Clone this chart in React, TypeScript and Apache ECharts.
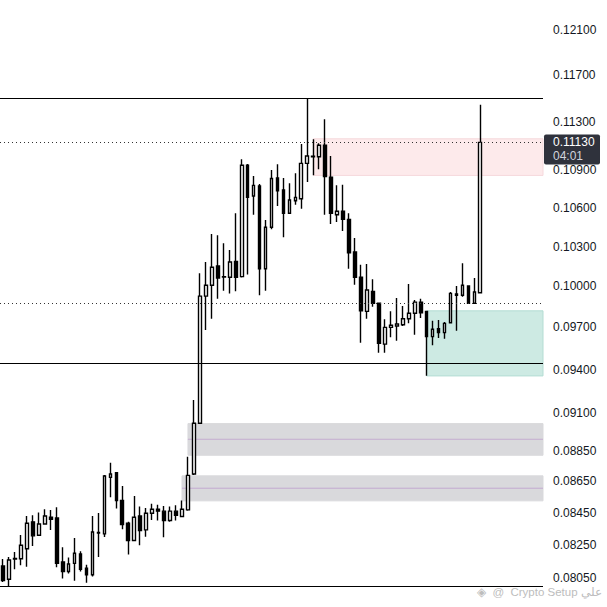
import React, { useEffect, useRef } from "react";
import * as echarts from "echarts";

// ---- data ----
const opens = [
  0.08123, 0.08043, 0.08165, 0.08167, 0.08228, 0.08394, 0.08311, 0.08381, 0.08423, 0.08418,
  0.08147, 0.0809, 0.08139, 0.08196, 0.0811, 0.0807, 0.08328, 0.08319, 0.08676, 0.08706,
  0.08528, 0.08385, 0.08278, 0.08431, 0.08344, 0.08448, 0.08473, 0.08461, 0.08402, 0.08461,
  0.08427, 0.08469, 0.08698, 0.09032, 0.09928, 0.10008, 0.10153, 0.10073, 0.10068, 0.10188,
  0.10073, 0.10942, 0.10695, 0.10775, 0.10132, 0.10449, 0.10839, 0.10743, 0.10559, 0.10657,
  0.10673, 0.10958, 0.11012, 0.11012, 0.11106, 0.10845, 0.10547, 0.10574, 0.10511, 0.10259,
  0.10068, 0.09816, 0.09963, 0.09875, 0.0958, 0.097, 0.0971, 0.09719, 0.09762, 0.09802,
  0.09884, 0.09816, 0.09633, 0.0969, 0.09662, 0.09733, 0.09943, 0.09934, 0.10003, 0.09875,
  0.09953,
];
const closes = [
  0.08035, 0.08159, 0.08168, 0.08249, 0.08385, 0.08307, 0.08381, 0.08431, 0.0841, 0.08139,
  0.0809, 0.08135, 0.082, 0.08103, 0.0807, 0.08331, 0.08325, 0.08685, 0.08698, 0.08528,
  0.08377, 0.08278, 0.08423, 0.0834, 0.08448, 0.08473, 0.08461, 0.08402, 0.08461, 0.08435,
  0.08473, 0.08689, 0.09032, 0.09928, 0.10008, 0.10143, 0.10063, 0.1007, 0.10183, 0.10068,
  0.10942, 0.10684, 0.1078, 0.10132, 0.10449, 0.10835, 0.10737, 0.10559, 0.10663, 0.10684,
  0.10958, 0.11018, 0.11016, 0.11106, 0.1085, 0.10559, 0.10574, 0.10511, 0.10253, 0.10068,
  0.0982, 0.09973, 0.09875, 0.09585, 0.097, 0.09715, 0.09724, 0.09762, 0.09802, 0.09884,
  0.09806, 0.09633, 0.09686, 0.09662, 0.09729, 0.09948, 0.09934, 0.10008, 0.09875, 0.09958,
  0.1113,
];
const lows = [
  0.08027, 0.08003, 0.08104, 0.08127, 0.08118, 0.08245, 0.08307, 0.08377, 0.08344, 0.08115,
  0.08047, 0.08078, 0.08035, 0.0809, 0.08023, 0.08059, 0.08177, 0.083, 0.08549, 0.08477,
  0.08348, 0.08192, 0.08276, 0.08249, 0.08302, 0.08406, 0.08402, 0.08298, 0.08394, 0.08402,
  0.08427, 0.08464, 0.08691, 0.09027, 0.09681, 0.09762, 0.09909, 0.09968, 0.09948, 0.09963,
  0.10066, 0.10088, 0.10547, 0.09934, 0.09968, 0.10433, 0.10615, 0.10372, 0.10557, 0.10626,
  0.10594, 0.10807, 0.10861, 0.10909, 0.10547, 0.10475, 0.1049, 0.10421, 0.10132, 0.10013,
  0.0959, 0.09762, 0.0985, 0.09518, 0.09518, 0.09628, 0.09604, 0.0971, 0.09729, 0.09647,
  0.09768, 0.09358, 0.09571, 0.09624, 0.09619, 0.09731, 0.09675, 0.09923, 0.09874, 0.09874,
  0.09951,
];
const highs = [
  0.08165, 0.08177, 0.08208, 0.08313, 0.08431, 0.08435, 0.08452, 0.08473, 0.08469, 0.08486,
  0.08237, 0.08175, 0.08294, 0.08212, 0.0813, 0.08431, 0.0845, 0.08691, 0.08771, 0.08711,
  0.0862, 0.08394, 0.08557, 0.0849, 0.08481, 0.08507, 0.08502, 0.08494, 0.0849, 0.08498,
  0.08528, 0.08811, 0.0919, 0.10098, 0.10183, 0.10397, 0.10387, 0.10326, 0.10274, 0.10558,
  0.10991, 0.10952, 0.10855, 0.10791, 0.10506, 0.10903, 0.1095, 0.10839, 0.10796, 0.10877,
  0.11117, 0.115, 0.11156, 0.11123, 0.11323, 0.11018, 0.1078, 0.10785, 0.10558, 0.10366,
  0.10162, 0.10168, 0.10053, 0.09877, 0.09758, 0.09816, 0.09914, 0.09855, 0.10018, 0.09899,
  0.09909, 0.09818, 0.09748, 0.09753, 0.09739, 0.09958, 0.10003, 0.10173, 0.10003, 0.10063,
  0.11446,
];
const EMPTY_SLOTS = 10;
const categories = Array.from({ length: opens.length + EMPTY_SLOTS }, (_, i) => String(i));

const yTicks = [
  0.121, 0.117, 0.113, 0.109, 0.106, 0.103, 0.1, 0.097, 0.094, 0.091, 0.0885, 0.0865, 0.0845,
  0.0825, 0.0805, 0.0787,
];
const yMin = 0.07879;
const yMax = 0.12373;

const solidLevels = [0.115, 0.09447, 0.08003];
const dottedLevels = [0.1113, 0.09875];
const currentPrice = 0.1113;
const countdown = "04:01";

// zones: start candle index, top price, bottom price, optional mid line
const zoneStart = [52, 71, 31, 30];
const zoneTop = [0.1116, 0.0982, 0.0903, 0.08686];
const zoneBottom = [0.1086, 0.09356, 0.0882, 0.08526];
const zoneMid = [null, null, 0.08925, 0.08606];

const watermarkText = "◈  @  Crypto Setup علي";

// ---- styles ----
const zoneFill = ["#fdeaeb", "#cdeae3", "#d9d9dc", "#d9d9dc"];
const zoneBorder = ["#f6d9dc", "#b4ddd3", "#d9d9dc", "#d9d9dc"];
const FONT = "Liberation Sans, Arial, sans-serif";

export default function App() {
  const ref = useRef<HTMLDivElement>(null);

  useEffect(() => {
    if (!ref.current) return;
    const chart = echarts.init(ref.current, null, { renderer: "svg" });

    const candleData = opens.map((o, i) => [o, closes[i], lows[i], highs[i]]);

    const areaData: any[] = [];
    zoneStart.forEach((s, i) => {
      areaData.push([
        {
          xAxis: s,
          yAxis: zoneTop[i],
          itemStyle: { color: zoneFill[i], borderColor: zoneBorder[i], borderWidth: 1 },
        },
        { yAxis: zoneBottom[i] },
      ]);
      const m = zoneMid[i];
      if (m != null) {
        areaData.push([
          {
            xAxis: s,
            yAxis: m,
            itemStyle: { color: "rgba(0,0,0,0)", borderColor: "#c9b6d3", borderWidth: 1 },
          },
          { yAxis: m },
        ]);
      }
    });

    const lineData: any[] = [];
    solidLevels.forEach((v) =>
      lineData.push({ yAxis: v, lineStyle: { color: "#000000", width: 1, type: "solid" } })
    );
    dottedLevels.forEach((v) =>
      lineData.push({ yAxis: v, lineStyle: { color: "#333333", width: 1, type: [1, 3] } })
    );

    const option: any = {
      animation: false,
      backgroundColor: "#ffffff",
      grid: { left: -1.7, right: 64, top: 0, bottom: 0, containLabel: false },
      xAxis: {
        type: "category",
        data: categories,
        boundaryGap: true,
        axisLine: { show: false },
        axisTick: { show: false },
        axisLabel: { show: false },
        splitLine: { show: false },
      },
      yAxis: {
        type: "log",
        logBase: 10,
        min: yMin,
        max: yMax,
        position: "right",
        axisLine: { show: false },
        axisTick: { show: false },
        splitLine: { show: false },
        axisLabel: {
          customValues: yTicks,
          formatter: (v: number) => Number(v).toFixed(5),
          margin: 10,
          color: "#131722",
          fontSize: 12,
          fontFamily: FONT,
          align: "left",
        },
      },
      series: [
        {
          type: "candlestick",
          data: candleData,
          barWidth: 3.2,
          itemStyle: {
            color: "#ffffff",
            color0: "#000000",
            borderColor: "#000000",
            borderColor0: "#000000",
            borderWidth: 1.4,
          },
          markArea: { silent: true, z: 1, data: areaData },
          markLine: {
            silent: true,
            precision: 6,
            symbol: ["none", "none"],
            label: { show: false },
            data: lineData,
          },
          z: 3,
        },
      ],
    };
    chart.setOption(option);

    const py = chart.convertToPixel({ yAxisIndex: 0 }, currentPrice) as number;
    chart.setOption({
      graphic: [
        {
          type: "group",
          z: 100,
          children: [
            {
              type: "rect",
              shape: { x: 544, y: py - 8, width: 56, height: 30, r: 2 },
              style: { fill: "#2f323c" },
            },
            {
              type: "text",
              x: 553,
              y: py,
              style: {
                text: currentPrice.toFixed(5),
                fill: "#ffffff",
                font: `12px ${FONT}`,
                verticalAlign: "middle",
              },
            },
            {
              type: "text",
              x: 553,
              y: py + 14,
              style: {
                text: countdown,
                fill: "#d1d4dc",
                font: `12px ${FONT}`,
                verticalAlign: "middle",
              },
            },
          ],
        },
        {
          type: "text",
          z: 100,
          x: 477,
          y: 592,
          style: {
            text: watermarkText,
            fill: "#bdbdbd",
            font: `11.5px ${FONT}`,
            verticalAlign: "middle",
          },
        },
      ],
    });

    return () => chart.dispose();
  }, []);

  return (
    <div
      ref={ref}
      style={{ position: "absolute", left: 0, top: 0, width: 607, height: 607 }}
    />
  );
}
